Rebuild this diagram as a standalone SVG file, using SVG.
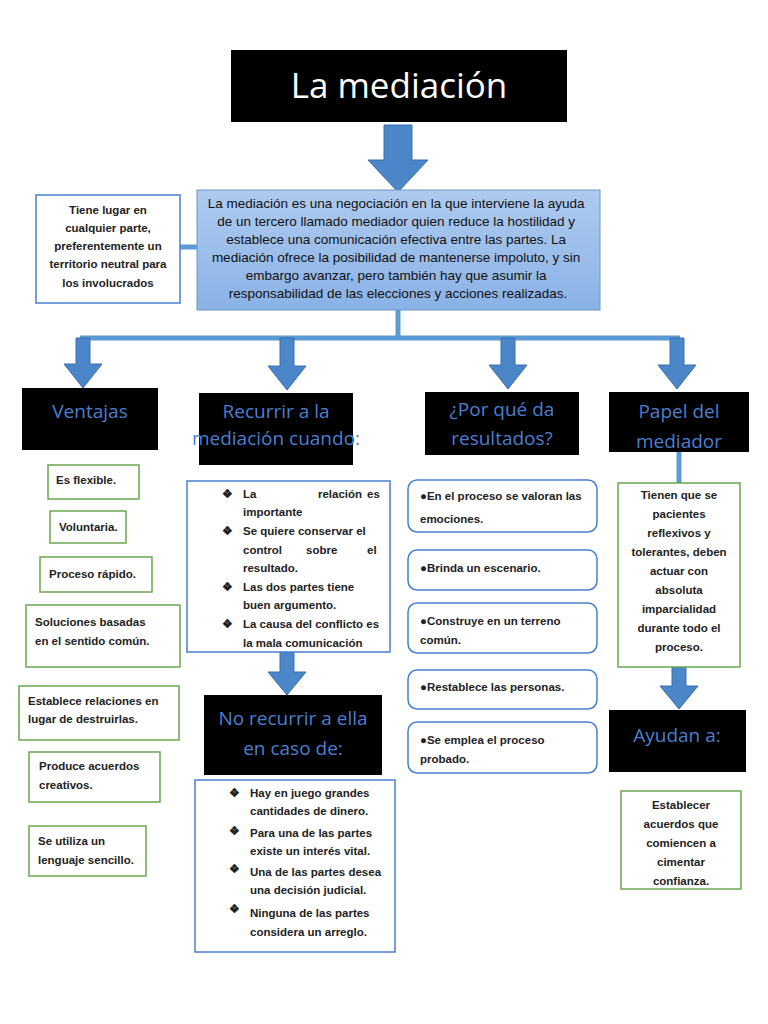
<svg xmlns="http://www.w3.org/2000/svg" width="768" height="1024" viewBox="0 0 768 1024">
<defs>
<linearGradient id="g" x1="0" y1="0" x2="0" y2="1"><stop offset="0" stop-color="#aecbef"/><stop offset="1" stop-color="#8ab2e6"/></linearGradient>
<style>
.blk{fill:#000}
.ttl{font-family:"Open Sans","Liberation Sans",sans-serif;fill:#4a7fd0;font-size:19px;text-anchor:middle}
.t{font-family:"Liberation Sans",sans-serif;font-size:11.5px;fill:#222;font-weight:bold}
.c{text-anchor:middle}
.gb{fill:#fff;stroke:#6aa84f;stroke-width:1.5}
.bb{fill:#fff;stroke:#4a7fd0;stroke-width:1.5}
.rb{fill:#fff;stroke:#4a7fd0;stroke-width:1.5}
.arr{fill:#4a86c8;stroke:#3a6fb0;stroke-width:1}
.ln{stroke:#5b9bd5;stroke-width:5;fill:none}
</style>
</defs>
<rect width="768" height="1024" fill="#fff"/>
<g id="connectors">
<polygon class="arr" points="384,125 412,125 412,160 428,160 398,192 368,160 384,160"/>
<line class="ln" x1="180" y1="247" x2="197" y2="247"/>
<line class="ln" x1="398" y1="310" x2="398" y2="338"/>
<line class="ln" x1="80" y1="338" x2="680" y2="338"/>
<polygon class="arr" points="76,338 90,338 90,364 102,364 83,388 64,364 76,364"/>
<polygon class="arr" points="280,338 294,338 294,366 306,366 287,390 268,366 280,366"/>
<polygon class="arr" points="501,338 515,338 515,365 527,365 508,389 489,365 501,365"/>
<polygon class="arr" points="670,338 684,338 684,365 696,365 677,389 658,365 670,365"/>
<polygon class="arr" points="280,652 294,652 294,672 306,672 287,695 268,672 280,672"/>
<line class="ln" x1="679" y1="452" x2="679" y2="483" stroke-width="3"/>
<polygon class="arr" points="672,667 686,667 686,686 698,686 679,709 660,686 672,686"/>
</g>
<g id="title"><rect class="blk" x="231" y="50" width="336" height="72"/><text x="399" y="98" font-family="Open Sans,Liberation Sans,sans-serif" font-size="35" fill="#fff" text-anchor="middle">La mediación</text></g>
<g id="main"><rect x="197" y="190" width="403" height="120" fill="url(#g)" stroke="#6f96c8"/>
<text font-family="Liberation Sans,sans-serif" font-size="13.5" fill="#111" text-anchor="middle">
<tspan x="398" y="208">La mediación es una negociación en la que interviene la ayuda</tspan>
<tspan x="398" y="226">de un tercero llamado mediador quien reduce la hostilidad y</tspan>
<tspan x="398" y="244">establece una comunicación efectiva entre las partes. La</tspan>
<tspan x="398" y="262">mediación ofrece la posibilidad de mantenerse impoluto, y sin</tspan>
<tspan x="398" y="280">embargo avanzar, pero también hay que asumir la</tspan>
<tspan x="398" y="298">responsabilidad de las elecciones y acciones realizadas.</tspan></text></g>
<g id="left"><rect class="bb" x="36" y="195" width="144" height="108"/>
<text class="t c"><tspan x="108" y="214">Tiene lugar en</tspan><tspan x="108" y="232">cualquier parte,</tspan><tspan x="108" y="250">preferentemente un</tspan><tspan x="108" y="268">territorio neutral para</tspan><tspan x="108" y="287">los involucrados</tspan></text></g>

<g id="ventajas"><rect class="blk" x="22" y="388" width="136" height="62"/><text class="ttl" x="90" y="418">Ventajas</text></g>
<g id="recurrir"><rect class="blk" x="199" y="393" width="154" height="72"/><text class="ttl" font-size="17"><tspan x="276" y="418">Recurrir a la</tspan><tspan x="276" y="445">mediación cuando:</tspan></text></g>
<g id="porque"><rect class="blk" x="425" y="392" width="154" height="63"/><text class="ttl" font-size="18"><tspan x="502" y="416">¿Por qué da</tspan><tspan x="502" y="445">resultados?</tspan></text></g>
<g id="papel"><rect class="blk" x="609" y="392" width="140" height="60"/><text class="ttl" font-size="18"><tspan x="679" y="418">Papel del</tspan><tspan x="679" y="448">mediador</tspan></text></g>

<g id="v1"><rect class="gb" x="48" y="465" width="91" height="34"/><text class="t" x="56" y="484">Es flexible.</text></g>
<g id="v2"><rect class="gb" x="50" y="511" width="76" height="32"/><text class="t" x="59" y="531">Voluntaria.</text></g>
<g id="v3"><rect class="gb" x="40" y="557" width="112" height="35"/><text class="t" x="49" y="578">Proceso rápido.</text></g>
<g id="v4"><rect class="gb" x="26" y="605" width="154" height="62"/><text class="t"><tspan x="35" y="626">Soluciones basadas</tspan><tspan x="35" y="645">en el sentido común.</tspan></text></g>
<g id="v5"><rect class="gb" x="19" y="686" width="160" height="54"/><text class="t"><tspan x="28" y="705">Establece relaciones en</tspan><tspan x="28" y="723">lugar de destruirlas.</tspan></text></g>
<g id="v6"><rect class="gb" x="29" y="752" width="131" height="50"/><text class="t"><tspan x="39" y="770">Produce acuerdos</tspan><tspan x="39" y="789">creativos.</tspan></text></g>
<g id="v7"><rect class="gb" x="29" y="826" width="117" height="50"/><text class="t"><tspan x="38" y="845">Se utiliza un</tspan><tspan x="38" y="864">lenguaje sencillo.</tspan></text></g>

<g id="rlist"><rect class="rb" x="187" y="481" width="203" height="171"/>
<text class="t">
<tspan x="222" y="498">❖</tspan><tspan x="243" y="498">La</tspan><tspan x="318" y="498">relación</tspan><tspan x="367" y="498">es</tspan>
<tspan x="243" y="516">importante</tspan>
<tspan x="222" y="535">❖</tspan><tspan x="243" y="535">Se quiere conservar el</tspan>
<tspan x="243" y="554">control</tspan><tspan x="306" y="554">sobre</tspan><tspan x="367" y="554">el</tspan>
<tspan x="243" y="572">resultado.</tspan>
<tspan x="222" y="591">❖</tspan><tspan x="243" y="591">Las dos partes tiene</tspan>
<tspan x="243" y="609">buen argumento.</tspan>
<tspan x="222" y="628">❖</tspan><tspan x="243" y="628">La causa del conflicto es</tspan>
<tspan x="243" y="647">la mala comunicación</tspan></text></g>

<g id="norecurrir"><rect class="blk" x="204" y="695" width="178" height="80"/><text class="ttl" font-size="18"><tspan x="293" y="725">No recurrir a ella</tspan><tspan x="293" y="755">en caso de:</tspan></text></g>
<g id="nlist"><rect class="rb" x="195" y="780" width="200" height="172"/>
<text class="t">
<tspan x="229" y="797">❖</tspan><tspan x="250" y="797">Hay en juego grandes</tspan>
<tspan x="250" y="815">cantidades de dinero.</tspan>
<tspan x="229" y="835">❖</tspan><tspan x="250" y="837">Para una de las partes</tspan>
<tspan x="250" y="855">existe un interés vital.</tspan>
<tspan x="229" y="873">❖</tspan><tspan x="250" y="876">Una de las partes desea</tspan>
<tspan x="250" y="894">una decisión judicial.</tspan>
<tspan x="229" y="913">❖</tspan><tspan x="250" y="917">Ninguna de las partes</tspan>
<tspan x="250" y="936">considera un arreglo.</tspan></text></g>

<g id="p1"><rect class="rb" x="408" y="480" width="189" height="52" rx="9"/><text class="t"><tspan x="420" y="500">●En el proceso se valoran las</tspan><tspan x="420" y="523">emociones.</tspan></text></g>
<g id="p2"><rect class="rb" x="408" y="550" width="189" height="40" rx="9"/><text class="t" x="420" y="572">●Brinda un escenario.</text></g>
<g id="p3"><rect class="rb" x="408" y="603" width="189" height="50" rx="9"/><text class="t"><tspan x="420" y="625">●Construye en un terreno</tspan><tspan x="420" y="644">común.</tspan></text></g>
<g id="p4"><rect class="rb" x="408" y="670" width="189" height="39" rx="9"/><text class="t" x="420" y="691">●Restablece las personas.</text></g>
<g id="p5"><rect class="rb" x="408" y="722" width="189" height="51" rx="9"/><text class="t"><tspan x="420" y="744">●Se emplea el proceso</tspan><tspan x="420" y="763">probado.</tspan></text></g>

<g id="papelbox"><rect class="gb" x="618" y="483" width="122" height="184"/><text class="t c"><tspan x="679" y="499">Tienen que se</tspan><tspan x="679" y="518">pacientes</tspan><tspan x="679" y="537">reflexivos y</tspan><tspan x="679" y="556">tolerantes, deben</tspan><tspan x="679" y="575">actuar con</tspan><tspan x="679" y="594">absoluta</tspan><tspan x="679" y="613">imparcialidad</tspan><tspan x="679" y="632">durante todo el</tspan><tspan x="679" y="651">proceso.</tspan></text></g>
<g id="ayudan"><rect class="blk" x="609" y="710" width="137" height="62"/><text class="ttl" x="677" y="742">Ayudan a:</text></g>
<g id="ayudanbox"><rect class="gb" x="621" y="791" width="120" height="98"/><text class="t c"><tspan x="681" y="809">Establecer</tspan><tspan x="681" y="828">acuerdos que</tspan><tspan x="681" y="847">comiencen a</tspan><tspan x="681" y="866">cimentar</tspan><tspan x="681" y="885">confianza.</tspan></text></g>
</svg>
